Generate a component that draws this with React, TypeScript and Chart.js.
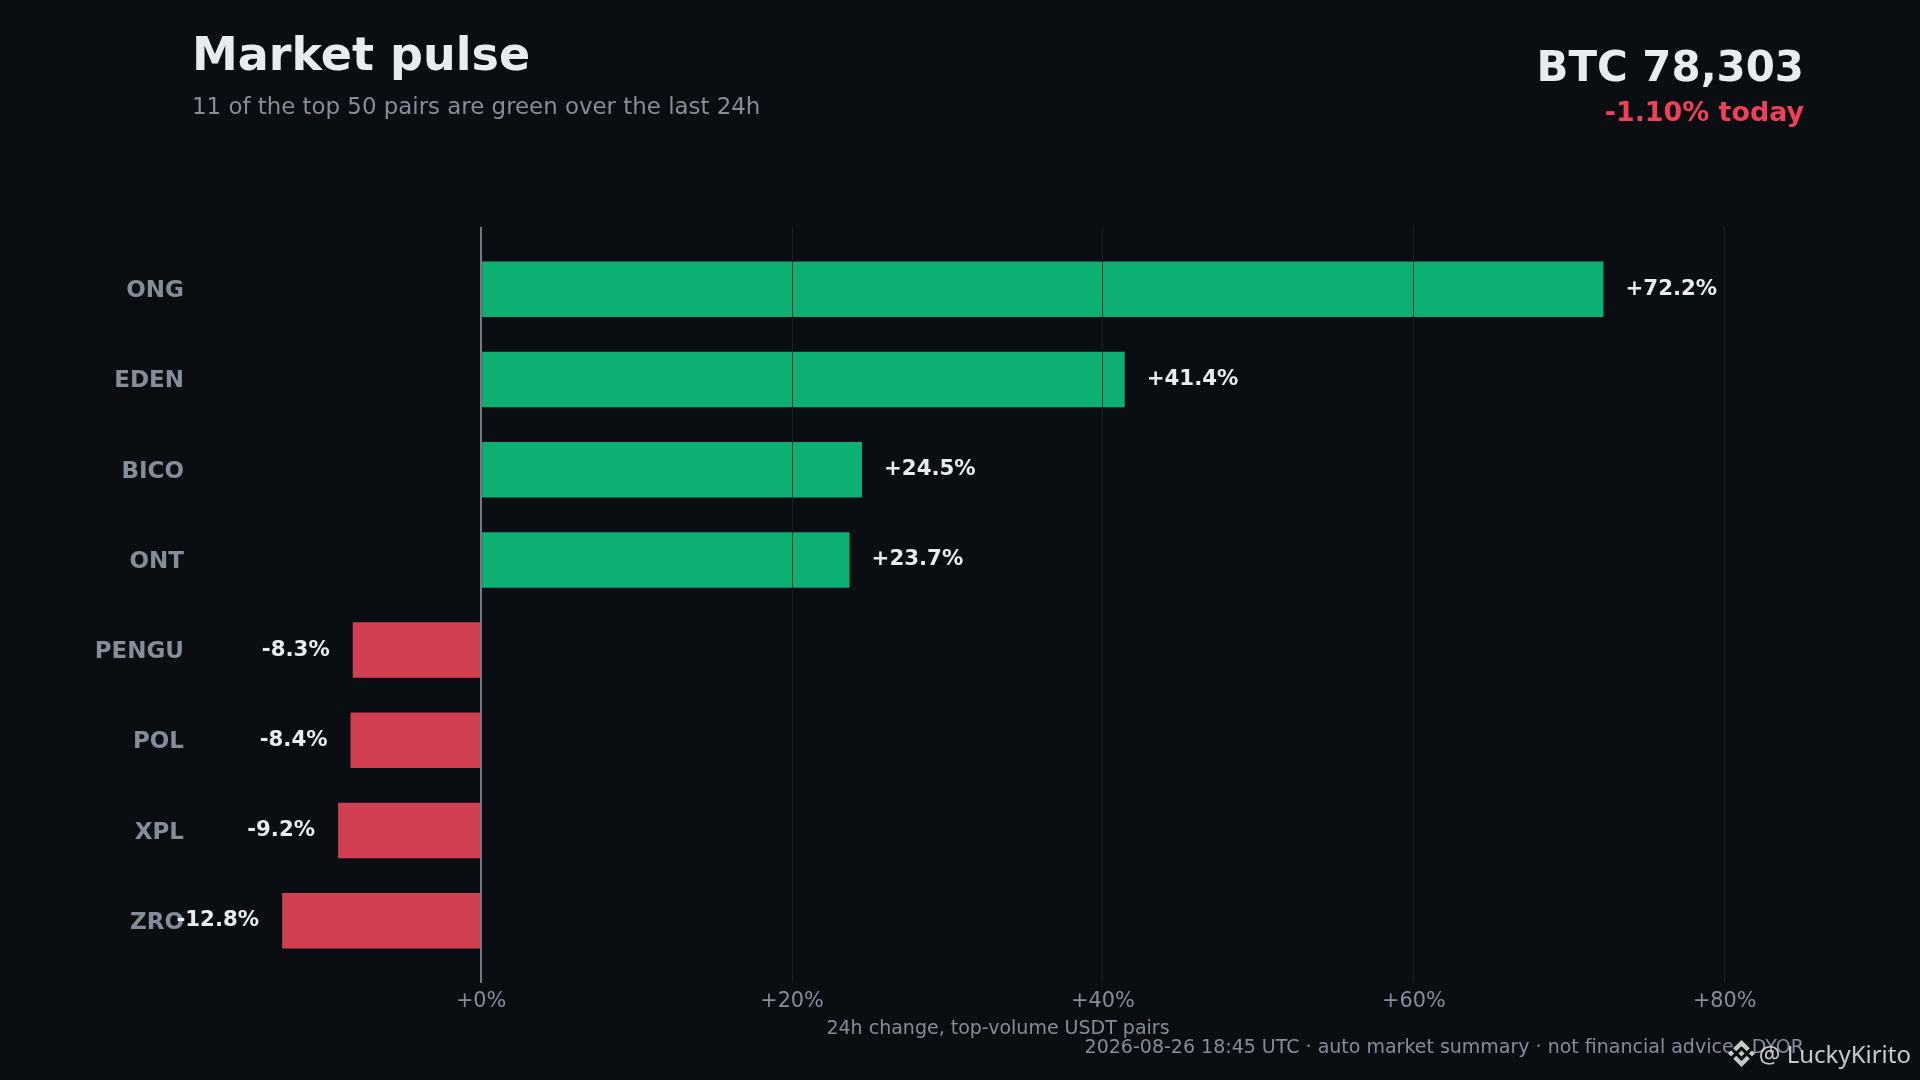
import { useEffect, useRef } from "react";
import { Chart, registerables } from "chart.js";

Chart.register(...registerables);

const symbols = ["ONG", "EDEN", "BICO", "ONT", "PENGU", "POL", "XPL", "ZRO"];
const changes = [72.2, 41.4, 24.5, 23.7, -8.26, -8.4, -9.2, -12.8];
const xTicks = [0, 20, 40, 60, 80];

const FONT = '"DejaVu Sans"';
const BG = "#0a0e12";
const GREEN = "#0eaf72";
const RED = "#d23e52";
const TEXT = "#e9ecef";
const MUTED = "#858d9a";

// binance mark, 126.61 box
const LOGO =
  "M38.73 53.2l24.59-24.58 24.6 24.6 14.3-14.31L63.32 0 24.42 38.9zM0 63.31l14.3-14.31 14.31 14.31-14.31 14.3zM38.73 73.41l24.59 24.59 24.6-24.6 14.31 14.29-38.9 38.91-38.91-38.88-.02-.02zM98 63.31l14.3-14.31 14.31 14.3-14.31 14.32zM77.83 63.3L63.32 48.78 52.59 59.51l-1.24 1.23-2.54 2.54 14.51 14.5 14.51-14.47z";

const formatPct = (v: number) => `${v >= 0 ? "+" : ""}${v.toFixed(1)}%`;

// symbol names and value labels, placed through the scales
const barLabels = {
  id: "barLabels",
  afterDatasetsDraw(chart: Chart) {
    const { ctx, scales } = chart;
    ctx.save();
    ctx.textBaseline = "middle";
    changes.forEach((v, i) => {
      const y = scales.y.getPixelForValue(i);
      ctx.font = `bold 23px ${FONT}`;
      ctx.fillStyle = MUTED;
      ctx.textAlign = "right";
      ctx.fillText(symbols[i], scales.y.right - 8, y + 2);

      ctx.font = `bold 21.3px ${FONT}`;
      ctx.fillStyle = TEXT;
      ctx.textAlign = v >= 0 ? "left" : "right";
      ctx.fillText(formatPct(v), scales.x.getPixelForValue(v) + (v >= 0 ? 22 : -23), y);
    });
    ctx.restore();
  },
};

const drawText = (
  ctx: CanvasRenderingContext2D,
  text: string,
  x: number,
  y: number,
  font: string,
  color: string,
  align: CanvasTextAlign = "left"
) => {
  ctx.font = font;
  ctx.fillStyle = color;
  ctx.textAlign = align;
  ctx.textBaseline = "alphabetic";
  ctx.fillText(text, x, y);
};

// header, footer and watermark
const overlay = {
  id: "overlay",
  afterDraw(chart: Chart) {
    const { ctx } = chart;
    ctx.save();
    drawText(ctx, "Market pulse", 192, 70, `bold 46px ${FONT}`, TEXT);
    drawText(ctx, "11 of the top 50 pairs are green over the last 24h", 192, 114, `22.9px ${FONT}`, MUTED);
    drawText(ctx, "BTC 78,303", 1804, 81, `bold 41.9px ${FONT}`, TEXT, "right");
    drawText(ctx, "-1.10% today", 1804, 121, `bold 26.9px ${FONT}`, "#f0405a", "right");
    drawText(ctx, "2026-08-26 18:45 UTC · auto market summary · not financial advice · DYOR", 1804, 1053, `19px ${FONT}`, MUTED, "right");

    ctx.globalAlpha = 0.85;
    ctx.translate(1728, 1040);
    ctx.scale(27 / 126.61, 27 / 126.61);
    ctx.fillStyle = "#e6e8ea";
    ctx.fill(new Path2D(LOGO));
    ctx.setTransform(1, 0, 0, 1, 0, 0);
    drawText(ctx, "@ LuckyKirito", 1911, 1063, `24px "Noto Sans"`, "#e6e8ea", "right");
    ctx.restore();
  },
};

export default function App() {
  const chartRef = useRef<HTMLCanvasElement>(null);

  useEffect(() => {
    if (!chartRef.current) return;
    document.body.style.margin = "0";
    document.body.style.background = BG;

    const chart = new Chart(chartRef.current, {
      type: "bar",
      data: {
        datasets: [
          {
            data: changes.map((v, i) => ({ x: v, y: i })),
            backgroundColor: changes.map((v) => (v >= 0 ? GREEN : RED)),
            barPercentage: 0.615,
            categoryPercentage: 1,
            borderWidth: 0,
          },
        ],
      },
      options: {
        indexAxis: "y",
        responsive: false,
        animation: false,
        devicePixelRatio: 1,
        layout: { padding: { top: 227, right: 116, left: 0, bottom: 0 } },
        plugins: {
          legend: { display: false },
          tooltip: { enabled: false },
        },
        scales: {
          x: {
            type: "linear",
            min: -18.6,
            max: 85.1,
            afterBuildTicks: (axis) => {
              axis.ticks = xTicks.map((value) => ({ value }));
            },
            afterFit: (axis) => {
              axis.height = 97;
            },
            grid: {
              z: 1,
              drawTicks: false,
              // gridlines sit on top of the bars
              color: (c) => (c.tick.value === 0 ? "#747b87" : "rgba(30,36,44,0.85)"),
              lineWidth: (c) => (c.tick.value === 0 ? 2 : 1),
            },
            border: { display: false },
            ticks: {
              color: MUTED,
              padding: 6,
              autoSkip: false,
              maxRotation: 0,
              font: { family: FONT, size: 20.8 },
              callback: (v) => `+${v}%`,
            },
            title: {
              display: true,
              text: "24h change, top-volume USDT pairs",
              color: MUTED,
              font: { family: FONT, size: 19 },
              padding: { top: 0, bottom: 40 },
            },
          },
          y: {
            type: "linear",
            reverse: true,
            offset: false,
            min: -0.69,
            max: 7.69,
            afterBuildTicks: (axis) => {
              axis.ticks = symbols.map((_, value) => ({ value }));
            },
            afterFit: (axis) => {
              axis.width = 192;
            },
            grid: { display: false, drawTicks: false },
            border: { display: false },
            ticks: { display: false },
          },
        },
      },
      plugins: [barLabels, overlay],
    });

    return () => {
      chart.destroy();
    };
  }, []);

  return <canvas ref={chartRef} width={1920} height={1080} style={{ display: "block", background: BG }} />;
}
